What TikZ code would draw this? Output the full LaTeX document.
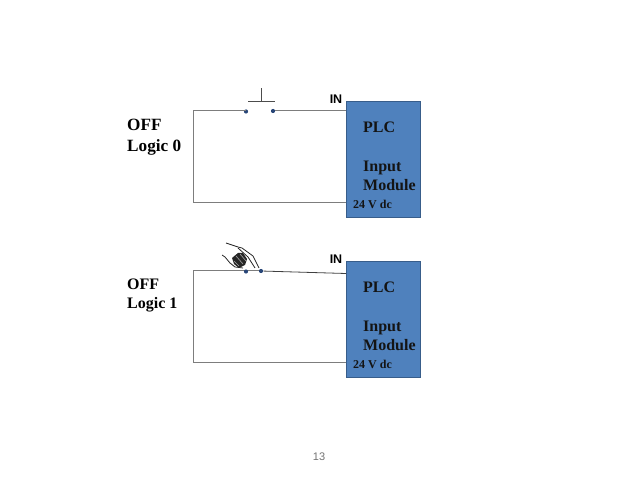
\documentclass[tikz,border=0pt]{standalone}
\usepackage{fontspec}
\setmainfont{Liberation Serif}
\newfontfamily\labelfont{Liberation Sans}
\usepackage{xcolor}
\definecolor{plcblue}{RGB}{79,129,189}
\definecolor{plcedge}{RGB}{56,93,138}
\definecolor{wiregray}{RGB}{125,125,125}
\definecolor{contactblue}{RGB}{40,70,120}
\tikzset{
  plcbox/.style={draw=plcedge, fill=plcblue, line width=0.9pt, minimum width=74pt, minimum height=116pt, inner sep=0pt},
  wire/.style={draw=wiregray, line width=1pt},
  contact/.style={circle, fill=contactblue, inner sep=0pt, minimum size=4.2pt},
  statetext/.style={font=\bfseries\fontsize{17.2}{21.5}\selectfont, align=left, anchor=north west, inner sep=0pt},
  statetextsmall/.style={statetext, font=\bfseries\fontsize{16}{19.5}\selectfont},
  plctext/.style={font=\bfseries\fontsize{16}{19.3}\selectfont, align=left, anchor=north west, inner sep=0pt, text=black!92},
  volttext/.style={font=\bfseries\fontsize{12}{14}\selectfont, anchor=west, inner sep=0pt, text=black!92},
  intext/.style={font=\labelfont\bfseries\fontsize{12.5}{14}\selectfont, inner sep=0pt}
}
\begin{document}
\begin{tikzpicture}[x=1pt,y=-1pt]
  \useasboundingbox (0,0) rectangle (638,478);

  % Upper circuit
  \coordinate (topA) at (193,111);
  \coordinate (botA) at (193,203);
  \node[plcbox] (plcA) at (383,159) {};
  \node[plctext] (plcAtext) at (363,122) {PLC\\[19.3pt]Input\\Module};
  \node[volttext] (voltA) at (353,204) {24 V dc};
  \node[intext] (inA) at (336,99.5) {IN};
  \node[statetext] (stateA) at (127,118.5) {OFF\\Logic 0};
  \coordinate (inAend) at (plcA.west |- topA);
  \coordinate (dcAend) at (plcA.west |- botA);
  \node[contact] (swAl) at (246,111.5) {};
  \node[contact] (swAr) at (273,111) {};
  \draw[wire] (swAl.center |- topA) -- (topA) -- (botA) -- (dcAend);
  \draw[wire] (swAr) -- (inAend);

  % Push button
  \coordinate (btnL) at (248,101);
  \coordinate (btnR) at (275,101);
  \coordinate (btnM) at (261,101);
  \coordinate (btnT) at (261,88);
  \draw[black!70, line width=0.7pt] (btnL) -- (btnR);
  \draw[black!70, line width=0.7pt] (btnM) -- (btnT);

  % Lower circuit
  \coordinate (topB) at (193,271);
  \coordinate (botB) at (193,363);
  \node[plcbox] (plcB) at (383,319) {};
  \node[plctext] (plcBtext) at (363,282) {PLC\\[19.3pt]Input\\Module};
  \node[volttext] (voltB) at (353,364) {24 V dc};
  \node[intext] (inB) at (336,259.5) {IN};
  \node[statetextsmall] (stateB) at (127,278.5) {OFF\\Logic 1};
  \coordinate (inBend) at (346,273.5);
  \coordinate (dcBend) at (plcB.west |- botB);
  \draw[wire] (261,271) -- (topB) -- (botB) -- (dcBend);
  \node[contact] (swBl) at (246,271.5) {};
  \node[contact] (swBr) at (261,271) {};
  \draw[black!75, line width=0.8pt] (swBr) -- (inBend);

  % Hand on the button
  \draw[black!85, line width=0.8pt, line join=round]
    (226,243) -- (238,247) -- (242,248) -- (253,256) -- (259,268);
  \draw[black!85, line width=0.8pt, line join=round]
    (238,248) -- (248,257) -- (255,268);
  \draw[black!85, line width=0.8pt, line join=round]
    (222,255) -- (225,257) -- (230,263) -- (235,267) -- (243,268);
  \fill[black!85] (232,258) -- (238,253) -- (243,253) -- (247,259) -- (245,265) -- (239,268) -- (234,264) -- cycle;
  \draw[black!35, line width=0.6pt] (236,256) -- (243,264) (240,254) -- (246,261) (234,261) -- (239,266);

  % Slide number
  \node[font=\labelfont\fontsize{11}{13}\selectfont, text=black!55, inner sep=0pt] (slideno) at (319,456.5) {13};
\end{tikzpicture}
\end{document}
